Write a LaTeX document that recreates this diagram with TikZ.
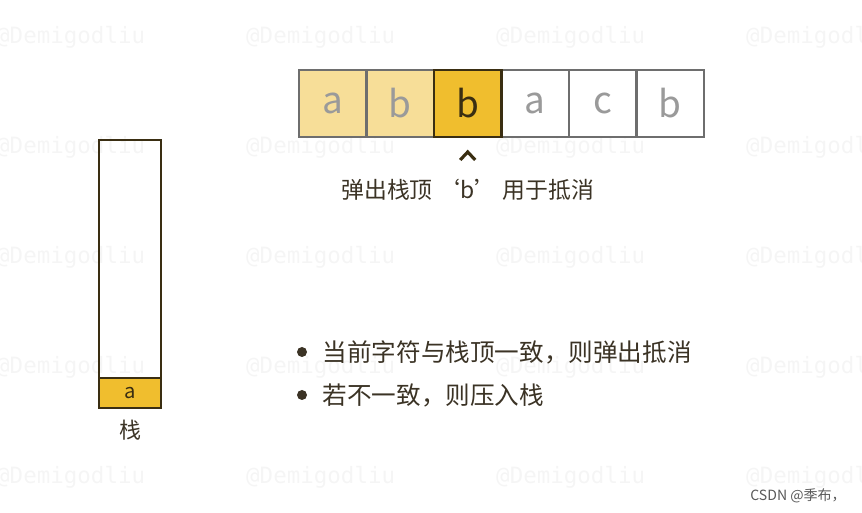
\documentclass[tikz,border=0pt]{standalone}
\usepackage{fontspec}
\setmainfont{Noto Sans CJK SC}
\newfontfamily\markfont{DejaVu Sans Mono}
\usetikzlibrary{positioning}
\definecolor{lightgold}{HTML}{F7DE98}
\definecolor{gold}{HTML}{F0BE2E}
\definecolor{darkbrown}{HTML}{3A2E12}
\definecolor{textbrown}{HTML}{3B3325}
\definecolor{cellgray}{HTML}{6E6E6E}
\definecolor{lettergray}{HTML}{9A9A9A}

\begin{document}
\begin{tikzpicture}[x=0.02cm,y=0.02cm]
                        \tikzstyle{watermark}=[anchor=west, text=black!4, font=\markfont\fontsize{12.8}{13}\selectfont]
                        \tikzstyle{cell}=[draw=cellgray, line width=1.2pt, minimum width=1.35cm, minimum height=1.34cm, inner sep=0pt, outer sep=0pt, text=lettergray, font=\fontsize{21}{21}\selectfont]
                        \tikzstyle{stackbox}=[draw=darkbrown, line width=1.2pt, minimum width=1.24cm, minimum height=5.36cm, inner sep=0pt, outer sep=0pt]
                        \tikzstyle{dot}=[circle, fill=textbrown, minimum size=0.2cm, inner sep=0pt]
                        \tikzstyle{bullettext}=[anchor=west, inner sep=0pt, text=textbrown, font=\fontsize{14}{14}\selectfont]
                        \useasboundingbox (0,0) rectangle (862,513);
                        % watermark
                        \foreach \row [count=\r] in {37,147,257,367,477}
                            \foreach \col [count=\c] in {-10,240,490,740}
                                \node[watermark] (wm\r\c) at (\col,513-\row) {@Demigodliu};
                        % string
                        \node[cell, fill=lightgold] (c1) at (332.75,409.5) {a};
                        \node[cell, fill=lightgold, right=0pt of c1] (c2) {b};
                        \node[cell, fill=gold, text=darkbrown, right=0pt of c2] (c3) {b};
                        \node[cell, fill=white, right=0pt of c3] (c4) {a};
                        \node[cell, fill=white, right=0pt of c4] (c5) {c};
                        \node[cell, fill=white, right=0pt of c5] (c6) {b};
                        \draw[darkbrown, line width=1.4pt] (c3.south west) rectangle (c3.north east);
                        \draw[line width=1.8pt, darkbrown] ([xshift=-0.15cm,yshift=-0.46cm]c3.south)
                            -- ([yshift=-0.3cm]c3.south) -- ([xshift=0.15cm,yshift=-0.46cm]c3.south);
                        \node[text=textbrown, font=\fontsize{13}{13}\selectfont] (caption) at ([yshift=-1.06cm]c3.south) {弹出栈顶 ‘b’ 用于抵消};
                        % stack
                        \node[stackbox] (stack) at (130,239) {};
                        \node[stackbox, fill=gold, minimum height=0.6cm, text=darkbrown, font=\fontsize{11.5}{12}\selectfont, above=0pt of stack.south] (top) {a};
                        \node[text=textbrown, font=\fontsize{12.5}{13}\selectfont, below=0.12cm of stack] (stacklabel) {栈};
                        % rules
                        \node[dot] (d1) at (302,161) {};
                        \node[bullettext, right=0.3cm of d1] (t1) {当前字符与栈顶一致，则弹出抵消};
                        \node[dot] (d2) at (302,118) {};
                        \node[bullettext, right=0.3cm of d2] (t2) {若不一致，则压入栈};
                        \node[anchor=east, text=black!65, font=\fontsize{8}{8}\selectfont] (csdn) at (852,17) {CSDN @季布，};
                    \end{tikzpicture}
\end{document}
